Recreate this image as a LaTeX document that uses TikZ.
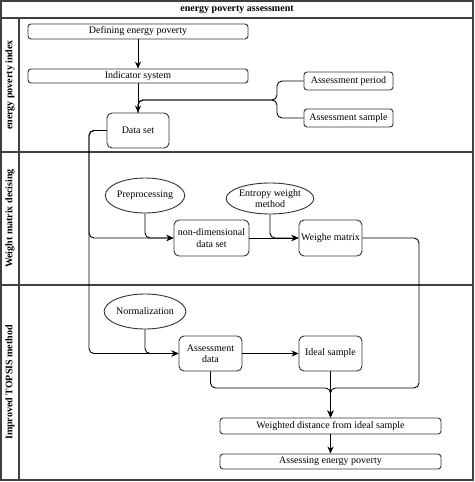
\documentclass[tikz,border=0pt]{standalone}
\usepackage{fontspec}
\setmainfont{Liberation Serif}
\usetikzlibrary{arrows.meta,shapes.geometric}
\begin{document}
\begin{tikzpicture}[x=1pt,y=-1pt,
  font=\fontsize{10}{11.5}\selectfont,
  frame/.style={draw=black!75,line width=1.1pt},
  box/.style={draw=black!80,line width=0.9pt,rounded corners=3pt,inner sep=1pt,align=center},
  rbox/.style={draw=black!80,line width=0.9pt,rounded corners=5pt,inner sep=1pt,align=center},
  oval/.style={draw=black!80,line width=0.9pt,ellipse,inner sep=0pt,align=center},
  conn/.style={line width=0.9pt,rounded corners=5pt},
  arr/.style={conn,-{Stealth[length=7pt,width=6pt]}},
  lane/.style={rotate=90,font=\fontsize{10}{12}\selectfont\bfseries}
]
\useasboundingbox (0,0) rectangle (474,482);
% frame
\draw[frame] (1,1) rectangle (473,480);
\draw[frame] (1,18) -- (473,18);
\draw[frame] (19,18) -- (19,480);
\draw[frame] (1,152) -- (473,152);
\draw[frame] (1,285) -- (473,285);
\node[font=\fontsize{10}{12}\selectfont\bfseries] (title) at (237,9.5) {energy poverty assessment};
\node[lane] (l1) at (10,85) {energy poverty index};
\node[lane] (l2) at (10,218.5) {Weight matrix decising};
\node[lane] (l3) at (10,382.5) {Improved TOPSIS method};
% nodes
\node[box,minimum width=220pt,minimum height=15pt] (def) at (138,31.5) {Defining energy poverty};
\node[box,minimum width=220pt,minimum height=14pt] (ind) at (138,76) {Indicator system};
\node[rbox,minimum width=62pt,minimum height=35pt] (ds) at (138,130.5) {Data set};
\node[box,minimum width=89pt,minimum height=18pt] (ap) at (348.5,81) {Assessment period};
\node[box,minimum width=89pt,minimum height=18pt] (as) at (348.5,118) {Assessment sample};
\node[oval,minimum width=76pt,minimum height=35pt] (pre) at (145,195.5) {Preprocessing};
\node[rbox,minimum width=75pt,minimum height=36pt] (nd) at (211.5,238) {non-dimensional\\data set};
\node[oval,minimum width=76pt,minimum height=31pt] (ent) at (270,198.5) {Entropy weight\\method};
\node[rbox,minimum width=63pt,minimum height=36pt] (wm) at (330.5,238) {Weighe matrix};
\node[oval,minimum width=76pt,minimum height=35pt] (norm) at (145,311.5) {Normalization};
\node[rbox,minimum width=63pt,minimum height=35pt] (ad) at (210.5,353.5) {Assessment\\data};
\node[rbox,minimum width=63pt,minimum height=35pt] (is) at (330.5,353.5) {Ideal sample};
\node[box,minimum width=221pt,minimum height=16pt] (wd) at (330.5,426) {Weighted distance from ideal sample};
\node[box,minimum width=221pt,minimum height=15pt] (ae) at (330.5,461.5) {Assessing energy poverty};
% connectors
\draw[arr] (def) -- (ind);
\draw[arr] (ind) -- (ds);
\draw[conn] (ap.west) -- (277,81) -- (277,100) -- (138,100) -- (ds.north);
\draw[conn] (as.west) -- (277,118) -- (277,100) -- (138,100) -- (ds.north);
\draw[arr] (ds.west) -- (89,130.5) -- (89,238) -- (nd.west);
\draw[arr] (ds.west) -- (89,130.5) -- (89,353.5) -- (ad.west);
\draw[arr] (pre.south) -- (145,238) -- (nd.west);
\draw[arr] (ent.south) -- (270,238) -- (wm.west);
\draw[arr] (nd.east) -- (wm.west);
\draw[arr] (wm.east) -- (419,238) -- (419,388) -- (330.5,388) -- (wd.north);
\draw[arr] (ad.south) -- (210.5,388) -- (330.5,388) -- (wd.north);
\draw[arr] (is.south) -- (wd.north);
\draw[arr] (norm.south) -- (145,353.5) -- (ad.west);
\draw[arr] (ad.east) -- (is.west);
\draw[arr] (wd.south) -- (ae.north);
\end{tikzpicture}
\end{document}
